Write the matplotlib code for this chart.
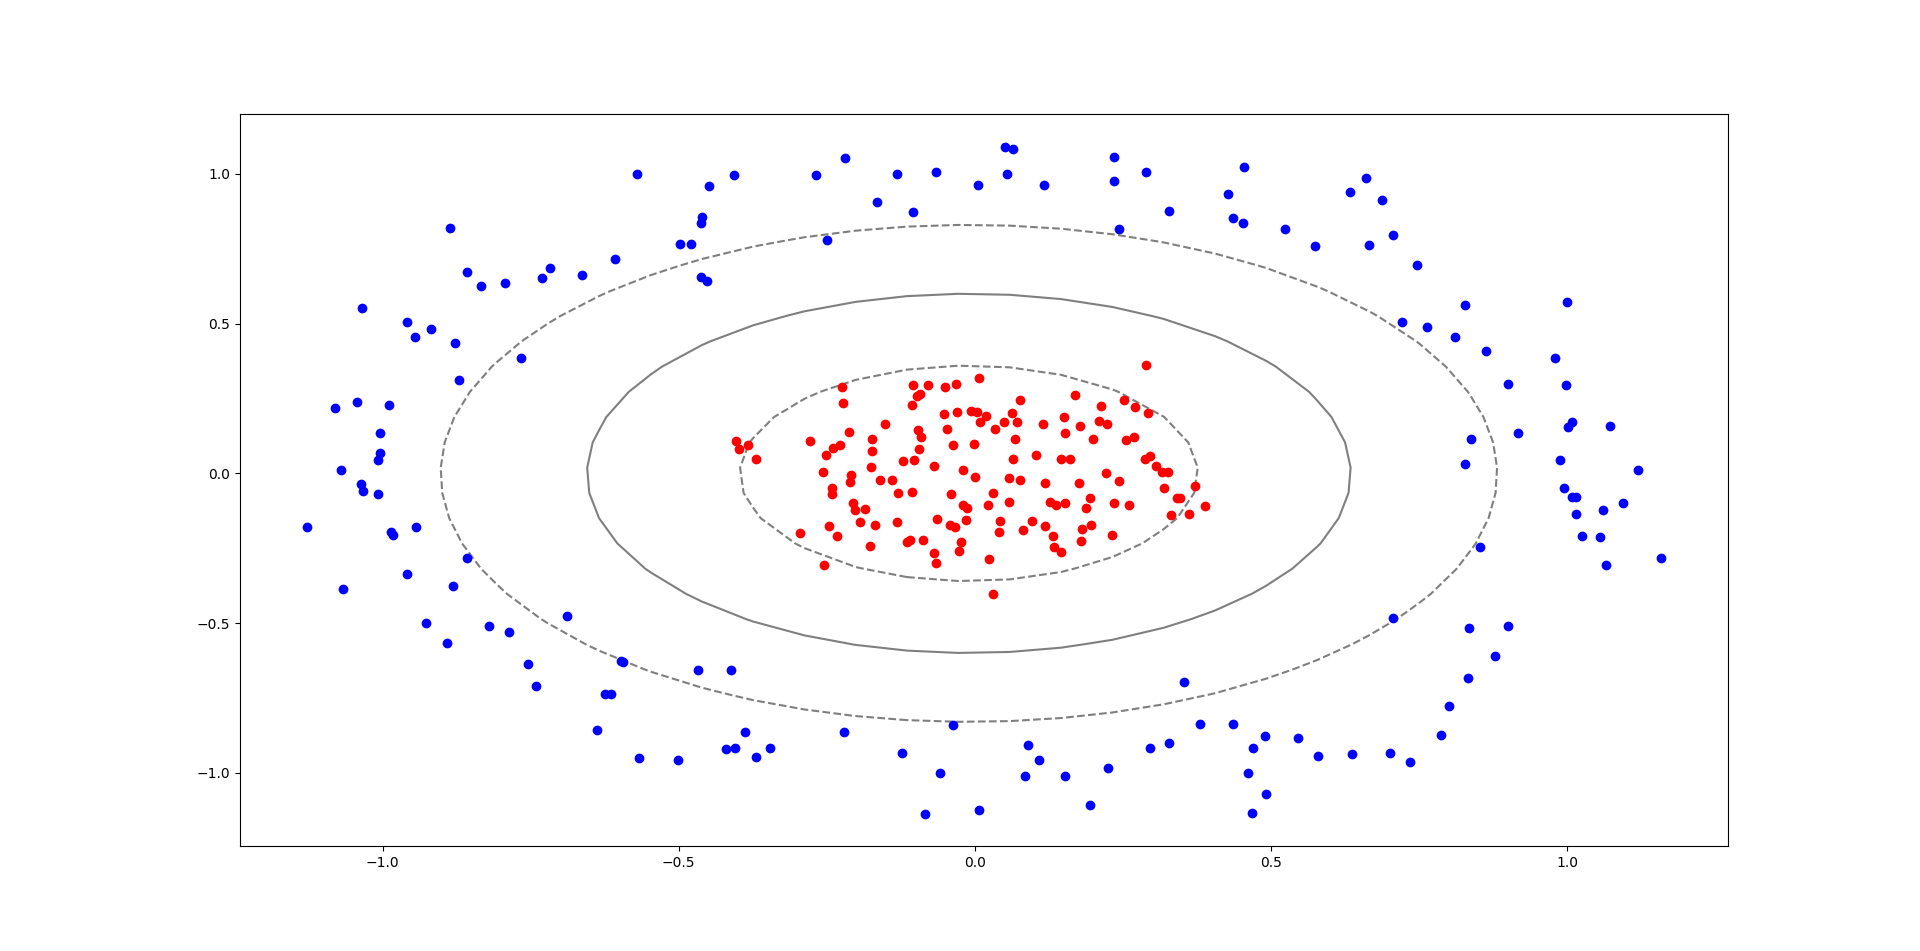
import numpy as np
import matplotlib
matplotlib.use("Agg")
import matplotlib.pyplot as plt

# Point positions, calibrated against its ticks
# (x: -1.0 -> 313, 1.0 -> 1278 ; y: 1.0 -> 142, -1.0 -> 630)
blue_read = [(520,142),(572,182),(579,152),(599,143),(555,199),(564,199),(573,177),(572,226),(577,229),(666,143),
 (690,129),(675,196),(716,165),(732,142),(745,173),(764,140),(798,151),(820,120),(827,122),(822,142),(852,151),
 (909,128),(909,148),(913,187),(935,140),(954,172),(1002,158),(1006,178),(1014,182),(1015,136),(1048,187),
 (1073,201),(1101,157),(1114,145),(1117,200),(1127,163),(1136,192),(1156,216),(368,186),(382,222),(393,233),
 (413,231),(443,227),(449,219),(502,211),(475,224),(426,292),(372,280),(375,310),(333,263),(339,275),(352,268),
 (296,251),(274,333),(292,328),(318,330),(311,353),(311,369),(309,375),(279,383),(295,395),(297,400),(309,403),
 (320,434),(321,436),(340,430),(333,468),(281,480),(251,430),(382,455),(370,478),(348,508),(365,524),(400,510),
 (416,515),(431,541),(438,559),(463,502),(488,595),(494,566),(499,566),(507,539),(509,540),(522,618),(554,620),
 (570,546),(597,546),(593,611),(600,610),(608,597),(617,617),(629,610),(689,597),(736,614),(767,630),(778,591),
 (755,664),(799,660),(839,607),(836,633),(848,620),(869,633),(889,656),(904,626),(938,610),(954,606),(966,556),
 (979,590),(1006,590),(1018,630),(1022,610),(1032,600),(1033,647),(1021,663),(1059,602),(1075,616),(1103,615),
 (1134,614),(1136,504),(1150,621),(1175,599),(1182,576),(1197,553),(1219,535),(1198,512),(1207,446),(1230,510),
 (1276,398),(1272,375),(1279,348),(1282,344),(1268,292),(1277,314),(1200,358),(1195,378),(1238,353),(1278,246),
 (1282,405),(1285,419),(1290,437),(1305,438),(1195,249),(1212,286),(1187,275),(1164,267),(1144,263),(1230,313),
 (1307,416),(1324,410),(1336,383),(1355,455),(1310,461),(1313,347),(1285,405)]
red_read = [(601,360),(603,366),(611,363),(617,374),(653,435),(661,360),(674,371),(672,385),(679,398),(679,403),
 (677,429),(673,461),(683,437),(680,365),(686,363),(688,329),(687,316),(693,352),(695,387),(694,393),(696,410),
 (698,416),(702,426),(706,415),(712,358),(712,368),(711,381),(710,445),(714,428),(718,391),(722,346),(728,391),
 (732,426),(733,402),(737,376),(740,442),(743,440),(744,401),(746,375),(745,314),(744,330),(748,323),(751,321),
 (749,351),(752,356),(750,366),(753,440),(757,314),(762,380),(765,423),(762,451),(764,459),(770,338),(771,316),
 (773,350),(775,428),(776,403),(780,313),(778,363),(781,336),(779,430),(783,449),(784,442),(786,383),(786,412),
 (788,424),(789,414),(792,335),(795,362),(797,336),(796,389),(799,308),(800,344),(805,339),(806,412),(807,456),
 (810,484),(810,402),(812,350),(815,434),(816,425),(819,344),(823,409),(823,390),(826,337),(827,374),(828,358),
 (830,344),(832,326),(832,391),(835,432),(842,425),(845,371),(851,346),(853,394),(853,429),(857,409),(859,437),
 (860,446),(862,412),(866,374),(868,340),(869,353),(869,410),(866,450),(873,374),(877,322),(880,394),(882,441),
 (883,431),(881,347),(886,414),(889,406),(890,428),(892,358),(897,343),(898,331),(902,386),(903,346),(907,436),
 (909,410),(913,392),(917,326),(919,359),(921,412),(925,356),(926,332),(934,374),(938,372),(935,298),(937,337),
 (943,380),(948,385),(950,398),(953,385),(955,420),(960,406),(963,406),(970,419),(975,396),(983,413)]

def to_x(p): return -1.0 + (p - 313) * 2.0 / (1278 - 313)
def to_y(p): return 1.0 - (p - 142) * 2.0 / (630 - 142)

blue_x = np.array([to_x(a) for a, b in blue_read]); blue_y = np.array([to_y(b) for a, b in blue_read])
red_x = np.array([to_x(a) for a, b in red_read]); red_y = np.array([to_y(b) for a, b in red_read])

# decision-function levels (elliptical boundary)
center_x = -0.01
x_stretch = 1.075
levels = [0.36, 0.60, 0.83]

fig, ax = plt.subplots(figsize=(19.2, 9.51), dpi=100)
ax.scatter(blue_x, blue_y, c="blue", s=36, zorder=3)
ax.scatter(red_x, red_y, c="red", s=36, zorder=3)
ax.set_xlim(-1.241, 1.272)
ax.set_ylim(-1.246, 1.2)
gx, gy = np.meshgrid(np.linspace(-1.241, 1.272, 30), np.linspace(-1.246, 1.2, 30))
F = np.sqrt(((gx - center_x) / x_stretch) ** 2 + gy ** 2)
ax.contour(gx, gy, F, levels=levels, colors="k", alpha=0.5,
           linestyles=["--", "-", "--"], linewidths=1.5)
ax.set_xticks([-1.0, -0.5, 0.0, 0.5, 1.0])
ax.set_yticks([-1.0, -0.5, 0.0, 0.5, 1.0])
fig.savefig("out.png", dpi=100)
